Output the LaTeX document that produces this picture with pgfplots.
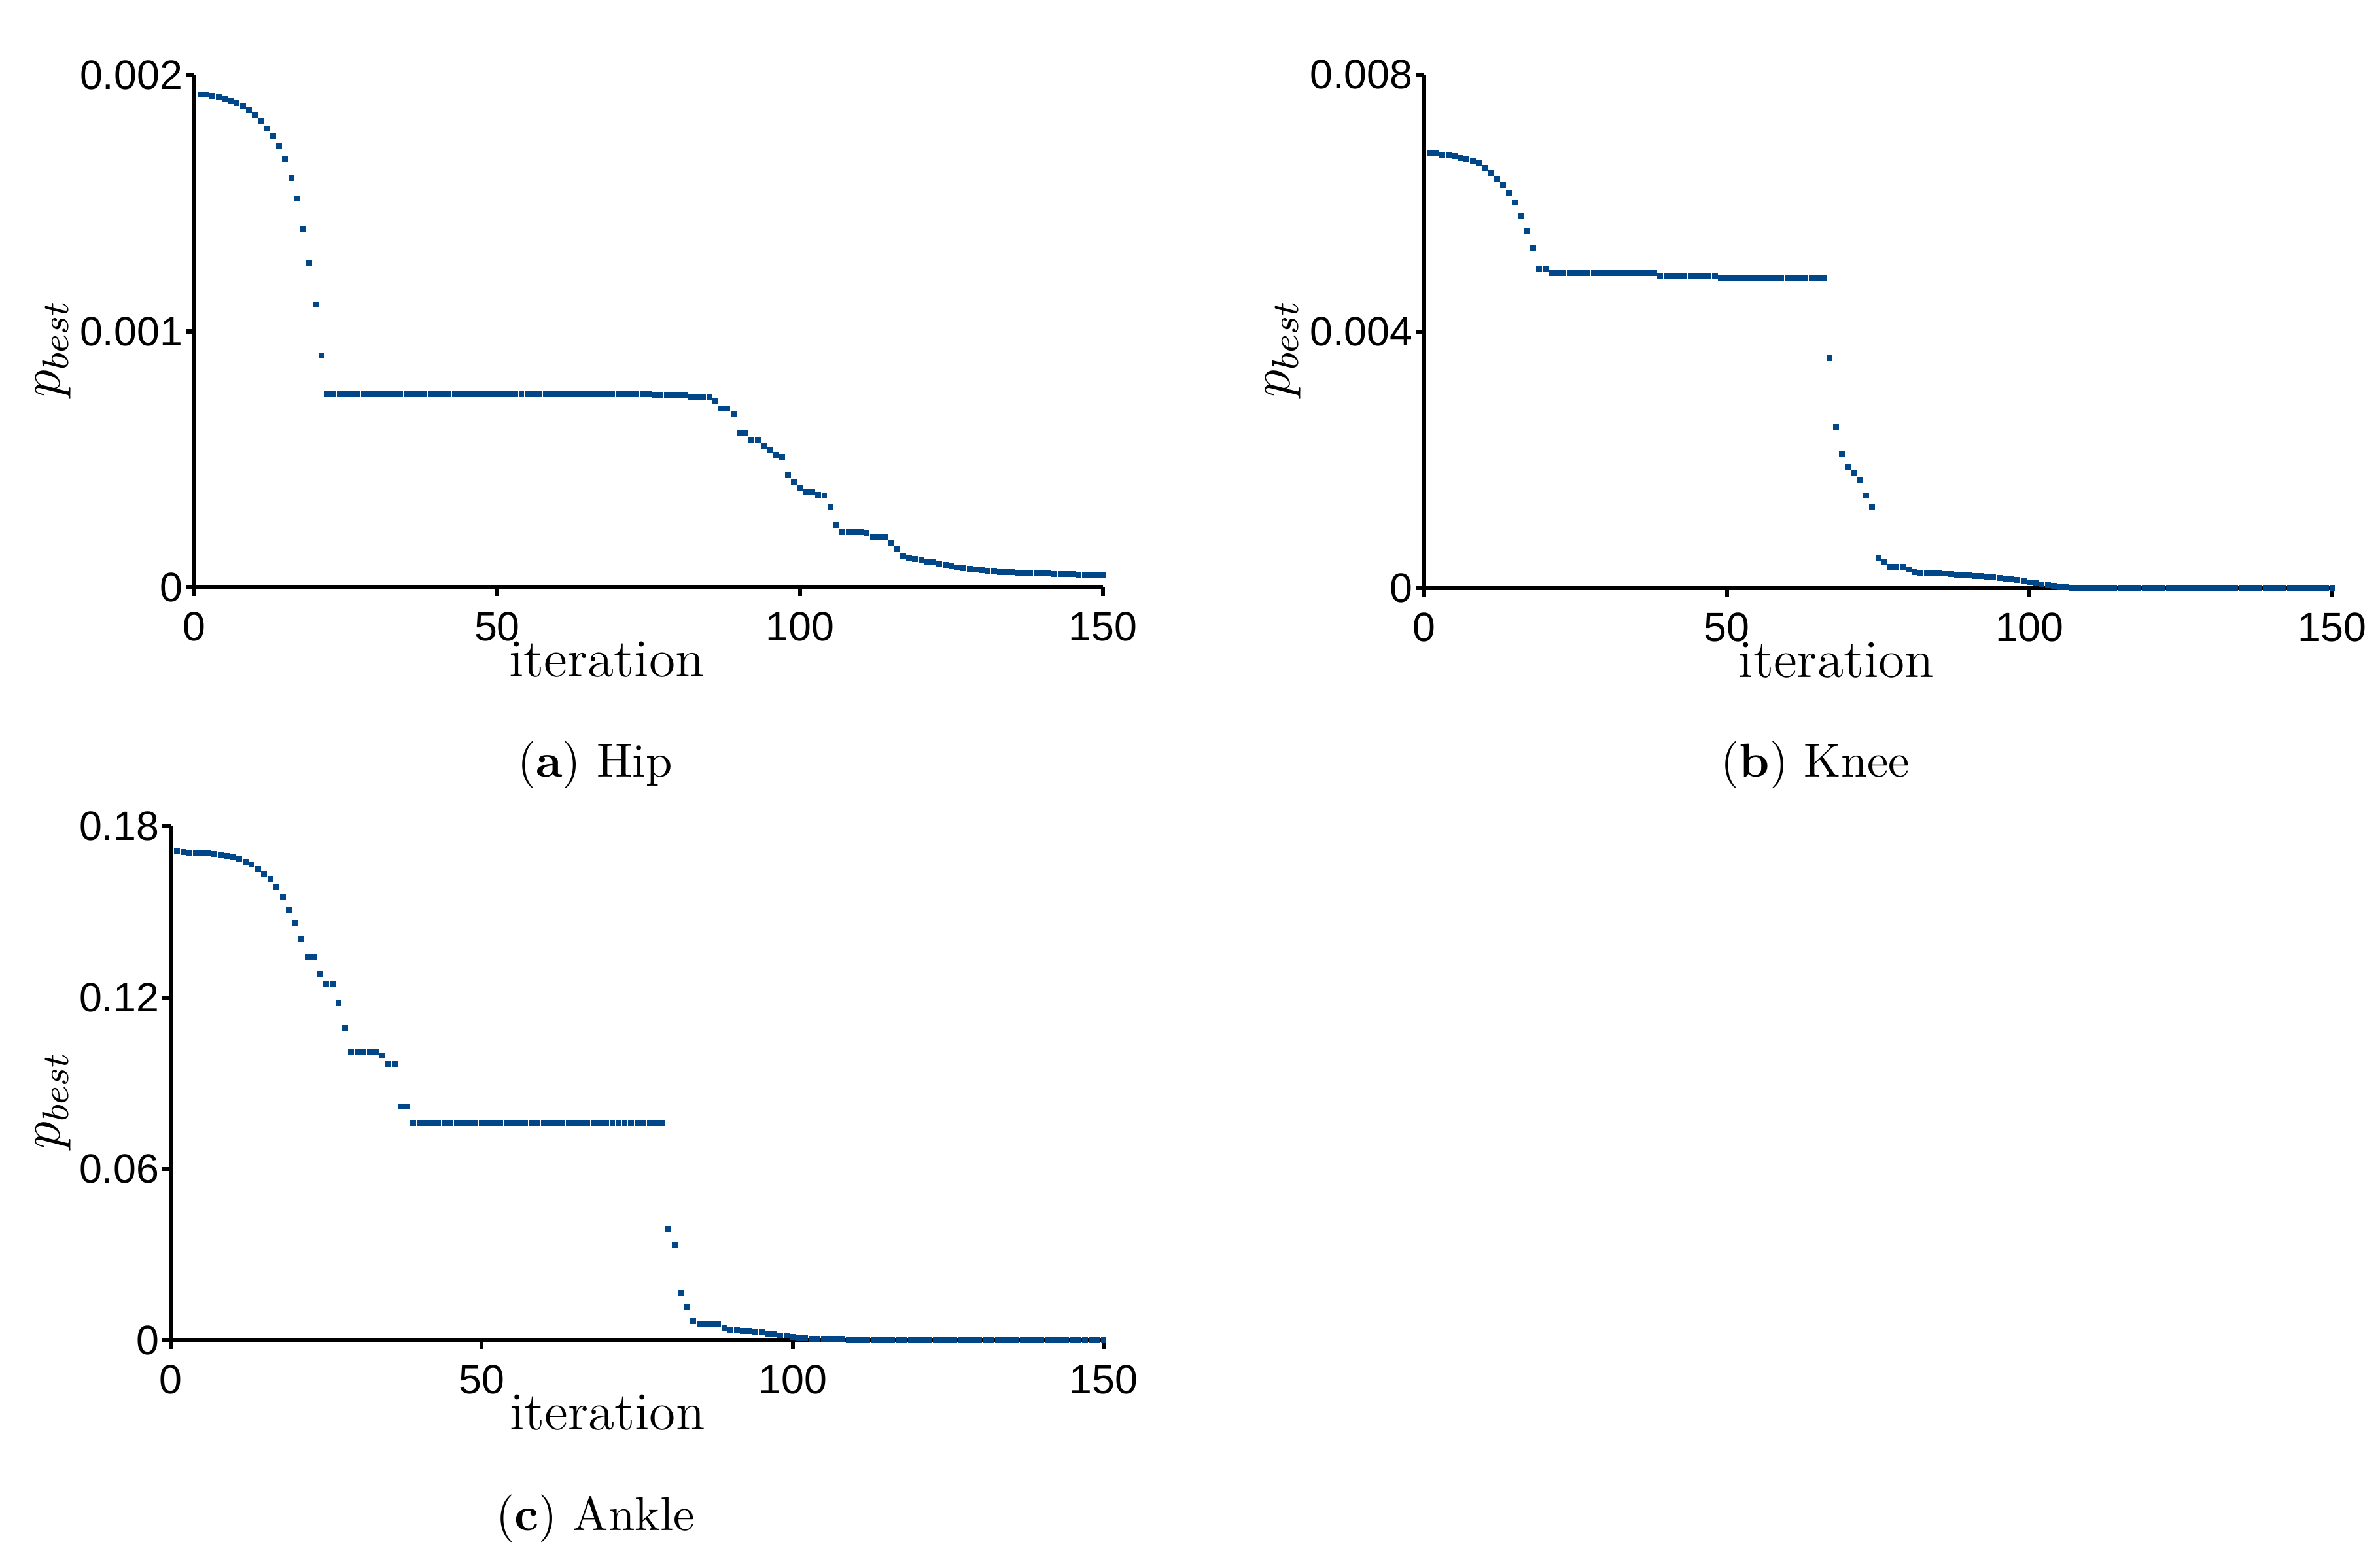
\documentclass[border=0pt]{standalone}
\usepackage{fontspec}
\usepackage{pgfplots}
\pgfplotsset{compat=1.18}
\newfontfamily\tickfont{Liberation Sans}
\definecolor{pcol}{RGB}{0,71,138}
\pgfplotsset{
 myax/.style={
  scale only axis,
  anchor=south west,
  axis lines=left,
  axis line style={-, line width=0.85pt, black},
  tick style={black, line width=0.85pt},
  tick align=outside,
  major tick length=1.8pt,
  xmin=0, xmax=150, enlargelimits=false,
  xtick={0,50,100,150},
  scaled y ticks=false,
  yticklabel style={/pgf/number format/fixed, /pgf/number format/precision=3, xshift=2.8pt},
  ticklabel style={font=\tickfont\fontsize{8.8}{10}\selectfont},
  /pgf/number format/assume math mode=true,
  xlabel={iteration},
  ylabel={$p_{best}$},
  xlabel style={font=\fontsize{11.5}{13}\selectfont, anchor=base, yshift=-19.2pt},
  ylabel style={font=\fontsize{12}{14}\selectfont, anchor=base},
  clip=false,
 },
 dots/.style={only marks, color=pcol, mark=square*, mark size=0.53pt, mark options={draw=pcol, fill=pcol, line width=0.2pt}},
}
\begin{document}
\begin{tikzpicture}
\useasboundingbox (0,0) rectangle (510.96pt,333.85pt);
% (a) Hip
\begin{axis}[myax, at={(41.71pt,207.72pt)}, width=195.08pt, height=109.97pt,
  ymin=0, ymax=0.002, ytick={0,0.001,0.002},
  xlabel style={at={(axis description cs:0.454,0)}},
  ylabel style={at={(axis description cs:-0.148,0.467)}}]
\addplot[dots] table[row sep=\\] {x y\\
1 0.001925\\ 2 0.001924\\ 3 0.001920\\ 4 0.001915\\ 5 0.001906\\ 6 0.001899\\ 7 0.001891\\ 8 0.001878\\ 9 0.001865\\ 10 0.001846\\
11 0.001820\\ 12 0.001793\\ 13 0.001761\\ 14 0.001722\\ 15 0.001672\\ 16 0.001600\\ 17 0.001519\\ 18 0.001402\\ 19 0.001267\\ 20 0.001106\\
21 0.000906\\ 22 0.000755\\ 23 0.000755\\ 24 0.000755\\ 25 0.000755\\ 26 0.000755\\ 27 0.000755\\ 28 0.000755\\ 29 0.000755\\ 30 0.000755\\
31 0.000755\\ 32 0.000755\\ 33 0.000755\\ 34 0.000755\\ 35 0.000755\\ 36 0.000755\\ 37 0.000755\\ 38 0.000755\\ 39 0.000755\\ 40 0.000755\\
41 0.000755\\ 42 0.000755\\ 43 0.000755\\ 44 0.000755\\ 45 0.000755\\ 46 0.000755\\ 47 0.000755\\ 48 0.000755\\ 49 0.000755\\ 50 0.000755\\
51 0.000755\\ 52 0.000755\\ 53 0.000755\\ 54 0.000755\\ 55 0.000755\\ 56 0.000755\\ 57 0.000755\\ 58 0.000755\\ 59 0.000755\\ 60 0.000755\\
61 0.000755\\ 62 0.000755\\ 63 0.000755\\ 64 0.000755\\ 65 0.000755\\ 66 0.000755\\ 67 0.000755\\ 68 0.000755\\ 69 0.000755\\ 70 0.000755\\
71 0.000755\\ 72 0.000755\\ 73 0.000755\\ 74 0.000755\\ 75 0.000755\\ 76 0.000752\\ 77 0.000752\\ 78 0.000752\\ 79 0.000752\\ 80 0.000752\\
81 0.000752\\ 82 0.000744\\ 83 0.000744\\ 84 0.000744\\ 85 0.000744\\ 86 0.000729\\ 87 0.000698\\ 88 0.000698\\ 89 0.000676\\ 90 0.000605\\
91 0.000605\\ 92 0.000575\\ 93 0.000575\\ 94 0.000552\\ 95 0.000536\\ 96 0.000518\\ 97 0.000510\\ 98 0.000439\\ 99 0.000413\\ 100 0.000389\\
101 0.000372\\ 102 0.000372\\ 103 0.000362\\ 104 0.000358\\ 105 0.000315\\ 106 0.000245\\ 107 0.000216\\ 108 0.000216\\ 109 0.000215\\ 110 0.000215\\
111 0.000214\\ 112 0.000199\\ 113 0.000197\\ 114 0.000195\\ 115 0.000173\\ 116 0.000149\\ 117 0.000124\\ 118 0.000113\\ 119 0.000111\\ 120 0.000108\\
121 0.000102\\ 122 0.000098\\ 123 0.000094\\ 124 0.000088\\ 125 0.000083\\ 126 0.000079\\ 127 0.000075\\ 128 0.000072\\ 129 0.000069\\ 130 0.000067\\
131 0.000065\\ 132 0.000063\\ 133 0.000061\\ 134 0.000060\\ 135 0.000059\\ 136 0.000058\\ 137 0.000057\\ 138 0.000056\\ 139 0.000055\\ 140 0.000054\\
141 0.000054\\ 142 0.000053\\ 143 0.000053\\ 144 0.000052\\ 145 0.000052\\ 146 0.000051\\ 147 0.000051\\ 148 0.000050\\ 149 0.000050\\ 150 0.000050\\
};
\end{axis}
% (b) Knee
\begin{axis}[myax, at={(305.76pt,207.58pt)}, width=194.94pt, height=110.25pt,
  ymin=0, ymax=0.008, ytick={0,0.004,0.008},
  xlabel style={at={(axis description cs:0.454,0)}},
  ylabel style={at={(axis description cs:-0.148,0.467)}}]
\addplot[dots] table[row sep=\\] {x y\\
1 0.006784\\ 2 0.006773\\ 3 0.006756\\ 4 0.006739\\ 5 0.006728\\ 6 0.006706\\ 7 0.006689\\ 8 0.006661\\ 9 0.006616\\ 10 0.006549\\
11 0.006471\\ 12 0.006376\\ 13 0.006286\\ 14 0.006158\\ 15 0.006007\\ 16 0.005794\\ 17 0.005570\\ 18 0.005291\\ 19 0.004972\\ 20 0.004972\\
21 0.004911\\ 22 0.004911\\ 23 0.004911\\ 24 0.004911\\ 25 0.004911\\ 26 0.004911\\ 27 0.004911\\ 28 0.004911\\ 29 0.004911\\ 30 0.004911\\
31 0.004911\\ 32 0.004911\\ 33 0.004911\\ 34 0.004911\\ 35 0.004911\\ 36 0.004911\\ 37 0.004911\\ 38 0.004911\\ 39 0.004871\\ 40 0.004871\\
41 0.004871\\ 42 0.004871\\ 43 0.004871\\ 44 0.004871\\ 45 0.004871\\ 46 0.004871\\ 47 0.004871\\ 48 0.004871\\ 49 0.004832\\ 50 0.004832\\
51 0.004832\\ 52 0.004832\\ 53 0.004832\\ 54 0.004832\\ 55 0.004832\\ 56 0.004832\\ 57 0.004832\\ 58 0.004832\\ 59 0.004832\\ 60 0.004832\\
61 0.004832\\ 62 0.004832\\ 63 0.004832\\ 64 0.004832\\ 65 0.004832\\ 66 0.004832\\ 67 0.003579\\ 68 0.002517\\ 69 0.002092\\ 70 0.001885\\
71 0.001801\\ 72 0.001689\\ 73 0.001437\\ 74 0.001264\\ 75 0.000464\\ 76 0.000400\\ 77 0.000333\\ 78 0.000333\\ 79 0.000330\\ 80 0.000295\\
81 0.000250\\ 82 0.000242\\ 83 0.000236\\ 84 0.000232\\ 85 0.000228\\ 86 0.000224\\ 87 0.000215\\ 88 0.000210\\ 89 0.000205\\ 90 0.000198\\
91 0.000193\\ 92 0.000188\\ 93 0.000175\\ 94 0.000168\\ 95 0.000162\\ 96 0.000145\\ 97 0.000135\\ 98 0.000125\\ 99 0.000110\\ 100 0.000090\\
101 0.000075\\ 102 0.000060\\ 103 0.000048\\ 104 0.000035\\ 105 0.000020\\ 106 0.000012\\ 107 0.000008\\ 108 0.000005\\ 109 0.000004\\ 110 0.000003\\
111 0.000003\\ 112 0.000003\\ 113 0.000003\\ 114 0.000003\\ 115 0.000003\\ 116 0.000003\\ 117 0.000003\\ 118 0.000003\\ 119 0.000003\\ 120 0.000003\\
121 0.000002\\ 122 0.000002\\ 123 0.000002\\ 124 0.000002\\ 125 0.000002\\ 126 0.000002\\ 127 0.000002\\ 128 0.000002\\ 129 0.000002\\ 130 0.000002\\
131 0.000002\\ 132 0.000002\\ 133 0.000002\\ 134 0.000002\\ 135 0.000002\\ 136 0.000001\\ 137 0.000001\\ 138 0.000001\\ 139 0.000001\\ 140 0.000001\\
141 0.000001\\ 142 0.000001\\ 143 0.000001\\ 144 0.000001\\ 145 0.000001\\ 146 0.000001\\ 147 0.000001\\ 148 0.000001\\ 149 0.000001\\ 150 0.000001\\
};
\end{axis}
% (c) Ankle
\begin{axis}[myax, at={(36.66pt,46.07pt)}, width=200.28pt, height=110.39pt,
  ymin=0, ymax=0.18, ytick={0,0.06,0.12,0.18},
  xlabel style={at={(axis description cs:0.468,0)}},
  ylabel style={at={(axis description cs:-0.119,0.467)}}]
\addplot[dots] table[row sep=\\] {x y\\
1 0.1712\\ 2 0.1709\\ 3 0.1708\\ 4 0.1707\\ 5 0.1707\\ 6 0.1704\\ 7 0.1702\\ 8 0.1701\\ 9 0.1696\\ 10 0.1691\\
11 0.1684\\ 12 0.1675\\ 13 0.1665\\ 14 0.1650\\ 15 0.1635\\ 16 0.1615\\ 17 0.1588\\ 18 0.1553\\ 19 0.1509\\ 20 0.1459\\
21 0.1404\\ 22 0.1343\\ 23 0.1343\\ 24 0.1281\\ 25 0.1250\\ 26 0.1250\\ 27 0.1180\\ 28 0.1094\\ 29 0.1009\\ 30 0.1009\\
31 0.1009\\ 32 0.1009\\ 33 0.1009\\ 34 0.0998\\ 35 0.0968\\ 36 0.0968\\ 37 0.0818\\ 38 0.0818\\ 39 0.0761\\ 40 0.0761\\
41 0.0761\\ 42 0.0761\\ 43 0.0761\\ 44 0.0761\\ 45 0.0761\\ 46 0.0761\\ 47 0.0761\\ 48 0.0761\\ 49 0.0761\\ 50 0.0761\\
51 0.0761\\ 52 0.0761\\ 53 0.0761\\ 54 0.0761\\ 55 0.0761\\ 56 0.0761\\ 57 0.0761\\ 58 0.0761\\ 59 0.0761\\ 60 0.0761\\
61 0.0761\\ 62 0.0761\\ 63 0.0761\\ 64 0.0761\\ 65 0.0761\\ 66 0.0761\\ 67 0.0761\\ 68 0.0761\\ 69 0.0761\\ 70 0.0761\\
71 0.0761\\ 72 0.0761\\ 73 0.0761\\ 74 0.0761\\ 75 0.0761\\ 76 0.0761\\ 77 0.0761\\ 78 0.0761\\ 79 0.0761\\ 80 0.0390\\
81 0.0334\\ 82 0.0165\\ 83 0.0118\\ 84 0.0068\\ 85 0.0058\\ 86 0.0058\\ 87 0.0056\\ 88 0.0056\\ 89 0.0043\\ 90 0.0037\\
91 0.0037\\ 92 0.0034\\ 93 0.0034\\ 94 0.0029\\ 95 0.0029\\ 96 0.0023\\ 97 0.0023\\ 98 0.0018\\ 99 0.0018\\ 100 0.0012\\
101 0.0008\\ 102 0.0008\\ 103 0.0005\\ 104 0.0005\\ 105 0.0005\\ 106 0.0005\\ 107 0.0005\\ 108 0.0005\\ 109 0.0001\\ 110 0.0001\\
111 0.0001\\ 112 0.0001\\ 113 0.0001\\ 114 0.0001\\ 115 0.0001\\ 116 0.0001\\ 117 0.0001\\ 118 0.0001\\ 119 0.0001\\ 120 0.0001\\
121 0.0001\\ 122 0.0001\\ 123 0.0001\\ 124 0.0001\\ 125 0.0001\\ 126 0.0001\\ 127 0.0001\\ 128 0.0001\\ 129 0.0001\\ 130 0.0001\\
131 0.0001\\ 132 0.0001\\ 133 0.0001\\ 134 0.0001\\ 135 0.0001\\ 136 0.0001\\ 137 0.0001\\ 138 0.0001\\ 139 0.0001\\ 140 0.0001\\
141 0.0001\\ 142 0.0001\\ 143 0.0001\\ 144 0.0001\\ 145 0.0001\\ 146 0.0001\\ 147 0.0001\\ 148 0.0001\\ 149 0.0001\\ 150 0.0001\\
};
\end{axis}
\node[anchor=base, font=\fontsize{10.2}{12}\selectfont] at (127.7pt,167pt) {(\textbf{a}) Hip};
\node[anchor=base, font=\fontsize{10.2}{12}\selectfont] at (389.7pt,167pt) {(\textbf{b}) Knee};
\node[anchor=base, font=\fontsize{10.2}{12}\selectfont] at (127.8pt,5.3pt) {(\textbf{c}) Ankle};
\end{tikzpicture}
\end{document}
